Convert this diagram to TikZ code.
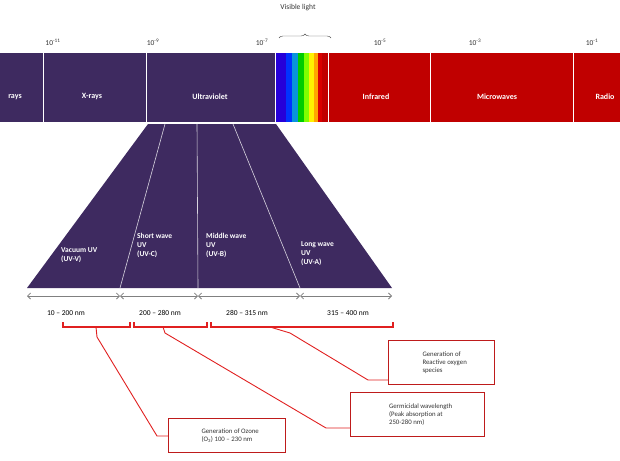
\documentclass[tikz,border=0pt]{standalone}
\usepackage{fontspec}
\setmainfont{Carlito}
\usetikzlibrary{decorations.pathreplacing,arrows.meta}
\definecolor{uvp}{HTML}{3E2A60}
\definecolor{irr}{HTML}{C00000}
\definecolor{brc}{HTML}{E02020}
\tikzset{
 band/.style={draw=white,line width=1pt},
 bl/.style={font=\fontsize{8}{9}\selectfont\bfseries,text=white},
 tl/.style={font=\fontsize{7.5}{8.5}\selectfont,text=black!80},
 sub/.style={font=\fontsize{7.5}{9}\selectfont\bfseries,text=white,align=left,anchor=north west,inner sep=1pt},
 rng/.style={gray,line width=0.8pt,{Straight Barb[length=3pt]}-{Straight Barb[length=3pt]}},
 rlab/.style={font=\fontsize{7.5}{8.5}\selectfont},
 brk/.style={draw=brc,line width=1.2pt},
 box/.style={draw=brc!85!black,line width=1.3pt,font=\fontsize{6.8}{8}\selectfont,align=left,text=black!80,anchor=north west,inner sep=4pt}
}
\begin{document}
\begin{tikzpicture}[x=1pt,y=-1pt]
\useasboundingbox (0,0) rectangle (620,460);
% bands
\fill[uvp] (0,53) rectangle (276,122);
\fill[irr] (322,53) rectangle (620,122);
\foreach \a/\b/\c in {276/286/blue!70!violet,286/292/blue!80!cyan,292/298/cyan!80!blue,298/304/green!80!black,304/309/green!50!yellow,309/314/yellow,314/318/orange!70!yellow,318/322/red!85!black,322/328/irr}
 \fill[\c] (\a,53) rectangle (\b,122);
\foreach \x in {43,146,275,328,430,573} \draw[band] (\x,53) -- (\x,122);
\node[bl] (g) at (15,97) {rays};
\node[bl] (xr) at (92,97) {X-rays};
\node[bl] (uv) at (210,97) {Ultraviolet};
\node[bl] (ir) at (376,97) {Infrared};
\node[bl] (mw) at (497,97) {Microwaves};
\node[bl] (ra) at (605,97) {Radio};
\node[tl] (e1) at (53,42) {10\textsuperscript{-11}};
\node[tl] (e2) at (153,42) {10\textsuperscript{-9}};
\node[tl] (e3) at (262,42) {10\textsuperscript{-7}};
\node[tl] (e4) at (380,42) {10\textsuperscript{-5}};
\node[tl] (e5) at (475,42) {10\textsuperscript{-3}};
\node[tl] (e6) at (592,42) {10\textsuperscript{-1}};
\node[tl] (vl) at (298,8) {Visible light};
\draw[decorate,decoration={brace,amplitude=4pt},black!70] (279,38) -- (331,38);
% trapezoid
\fill[uvp] (148,124) -- (276,124) -- (392,288) -- (27,288) -- cycle;
\draw[white!80!uvp,line width=0.6pt] (165,124) -- (120,288) (197,124) -- (198,288) (233,124) -- (300,288);
\node[sub] (s1) at (60,246) {Vacuum UV\\(UV-V)};
\node[sub] (s2) at (136,232) {Short wave\\UV\\(UV-C)};
\node[sub] (s3) at (205,232) {Middle wave\\UV\\(UV-B)};
\node[sub] (s4) at (300,240) {Long wave\\UV\\(UV-A)};
% ranges
\coordinate (p0) at (27,296); \coordinate (p1) at (120,296); \coordinate (p2) at (198,296);
\coordinate (p3) at (300,296); \coordinate (p4) at (392,296);
\draw[rng] (p0) -- (p1); \draw[rng] (p1) -- (p2); \draw[rng] (p2) -- (p3); \draw[rng] (p3) -- (p4);
\node[rlab] (r1) at (66,313) {10 -- 200 nm};
\node[rlab] (r2) at (160,313) {200 -- 280 nm};
\node[rlab] (r3) at (247,313) {280 -- 315 nm};
\node[rlab] (r4) at (348,313) {315 -- 400 nm};
% brackets
\draw[brk] (63,322) -- (63,327) -- (130,327) -- (130,322);
\draw[brk] (134,322) -- (134,327) -- (207,327) -- (207,322);
\draw[brk] (211,322) -- (211,327) -- (393,327) -- (393,322);
\coordinate (b1) at (96,327); \coordinate (b2) at (163,327); \coordinate (b3) at (270,327);
% boxes
\node[box,minimum width=117pt,minimum height=34pt] (o) at (168,418) {\hspace*{6pt}Generation of Ozone\\\hspace*{6pt}(O\textsubscript{3}) 100 -- 230 nm};
\node[box,minimum width=134pt,minimum height=44pt] (gw) at (350,392) {\hspace*{6pt}Germicidal wavelength\\\hspace*{6pt}(Peak absorption at\\\hspace*{6pt}250-280 nm)};
\node[box,minimum width=106pt,minimum height=44pt] (ro) at (388,340) {\hspace*{6pt}Generation of\\\hspace*{6pt}Reactive oxygen\\\hspace*{6pt}species};
\draw[brk,line width=0.9pt] (b1) -- (97,337) -- (157,436) -- (o.west |- 0,436);
\draw[brk,line width=0.9pt] (b2) -- (165,333) -- (326,428) -- (gw.west |- 0,428);
\draw[brk,line width=0.9pt] (b3) -- (290,333) -- (368,380) -- (ro.west |- 0,380);
\end{tikzpicture}
\end{document}
